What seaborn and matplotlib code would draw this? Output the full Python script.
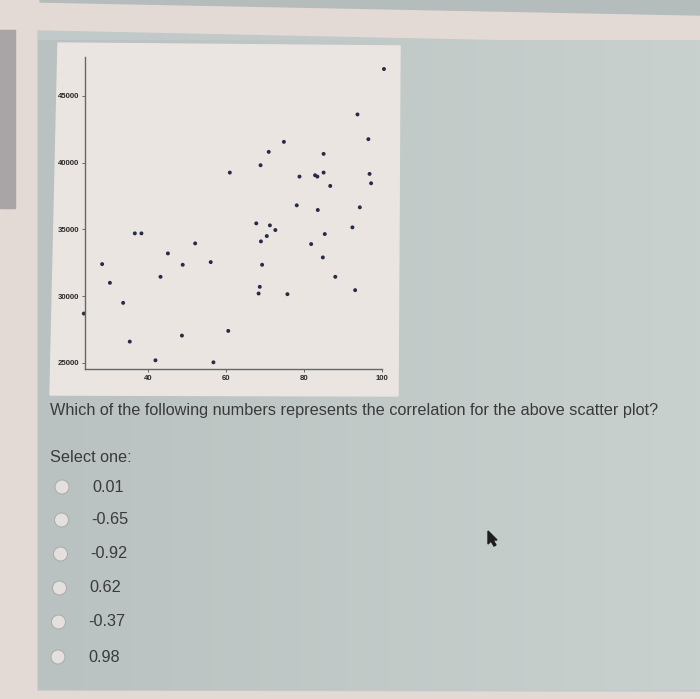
import pandas as pd
import numpy as np
import seaborn as sns
import matplotlib.pyplot as plt
from matplotlib.patches import Polygon, Rectangle, Circle

# scatter values
x_vals = [23.4, 28.1, 30.1, 33.5, 35.2, 36.5, 38.2, 41.8, 43.1, 45.0,
          48.8, 48.6, 52.0, 56.0, 56.7, 60.5, 60.9, 67.7, 68.3, 68.6,
          68.8, 68.9, 69.2, 70.4, 70.9, 71.2, 72.6, 74.8, 75.7, 78.1,
          78.8, 81.8, 82.8, 83.4, 83.5, 84.8, 85.0, 85.0, 85.3, 86.7,
          88.0, 92.4, 93.1, 93.7, 94.3, 96.5, 96.8, 97.2, 100.5]
y_vals = [28700, 32400, 31000, 29500, 26600, 34700, 34700, 25200, 31450, 33200,
          32350, 27050, 33950, 32550, 25050, 27400, 39250, 35450, 30200, 30700,
          39800, 34100, 32350, 34500, 40800, 35300, 34950, 41550, 30150, 36800,
          38950, 33900, 39050, 38950, 36450, 32900, 39250, 40650, 34650, 38250,
          31450, 35150, 30450, 43600, 36650, 41750, 39150, 38450, 47000]

x_ticks = [40, 60, 80, 100]
y_ticks = [25000, 30000, 35000, 40000, 45000]

question = "Which of the following numbers represents the correlation for the above scatter plot?"
prompt = "Select one:"
choices = ["0.01", "-0.65", "-0.92", "0.62", "-0.37", "0.98"]

df = pd.DataFrame({"x": x_vals, "y": y_vals})

sns.set_style("white")
plt.rcParams["font.family"] = ["Liberation Sans", "DejaVu Sans"]

W, H = 700, 699
fig = plt.figure(figsize=(7, 6.99), dpi=100)

# page / screen background drawn in pixel coordinates
bg = fig.add_axes([0, 0, 1, 1])
bg.set_xlim(0, W)
bg.set_ylim(H, 0)
bg.axis("off")
bg.add_patch(Rectangle((0, 0), W, H, color="#e3d9d5"))
bg.add_patch(Polygon([(40, 0), (W, 0), (W, 15), (40, 2)], color="#b4bdbb"))
bg.add_patch(Polygon([(38, 31), (W, 45), (W, 691), (38, 690)], color="#c1cac8"))
grad = np.linspace(0, 1, 200).reshape(1, -1)
bg.imshow(grad, extent=(38, W, 690, 40), cmap=plt.matplotlib.colors.LinearSegmentedColormap.from_list(
    "panel", ["#b9c2c0", "#c8d1ce"]), aspect="auto", zorder=1)
bg.add_patch(Rectangle((0, 30), 15, 178, color="#a9a5a7", zorder=2))
bg.add_patch(Polygon([(58, 43), (400, 46), (398, 396), (50, 395)], color="#ebe5e2", zorder=2))

txt_color = "#3a3a3a"
bg.text(50, 410, question, fontsize=11.7, color=txt_color, va="center", zorder=3)
bg.text(50, 458, prompt, fontsize=11.7, color=txt_color, va="center", zorder=3)
radio_y = [487, 520, 554, 588, 622, 657]
radio_x = [62, 61.5, 60.5, 59.5, 58.5, 58]
for i, c in enumerate(choices):
    bg.add_patch(Circle((radio_x[i], radio_y[i]), 7, facecolor="#e4e0de",
                        edgecolor="#aaaaaa", lw=0.7, zorder=3))
    bg.text(radio_x[i] + 30, radio_y[i], c, fontsize=11.7, color=txt_color,
            va="center", zorder=3)

# mouse cursor
bg.add_patch(Polygon([(488, 531), (488, 544), (491, 541), (494, 546),
                      (496, 545), (493, 540), (497, 540)], color="#1e1e1e", zorder=3))

# scatter chart
ax = fig.add_axes([85 / W, 1 - 369 / H, (382 - 85) / W, (369 - 57) / H])
ax.patch.set_alpha(0)
sns.scatterplot(data=df, x="x", y="y", ax=ax, s=8, color="#252b48",
                edgecolor="none", clip_on=False)
ax.set_xlim(23.7, 100)
ax.set_ylim(24550, 47900)
ax.set_xticks(x_ticks)
ax.set_xticklabels([str(t) for t in x_ticks])
ax.set_yticks(y_ticks)
ax.set_yticklabels([str(t) for t in y_ticks])
ax.tick_params(axis="both", labelsize=5.6, length=2.5, width=0.6, colors="#555555",
               labelcolor="#2a2a2a", pad=1.5, bottom=True, left=True)
for lab in ax.get_xticklabels() + ax.get_yticklabels():
    lab.set_fontweight("bold")
ax.set_xlabel("")
ax.set_ylabel("")
sns.despine(ax=ax)
for side in ["left", "bottom"]:
    ax.spines[side].set_color("#666666")
    ax.spines[side].set_linewidth(1.0)

plt.savefig("out.png", dpi=100)
